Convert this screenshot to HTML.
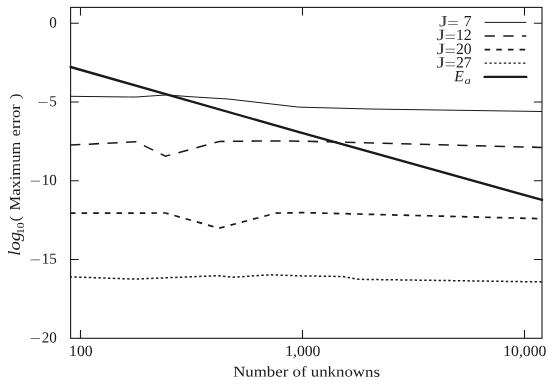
<!DOCTYPE html>
<html><head><meta charset="utf-8"><title>plot</title>
<style>
html,body{margin:0;padding:0;background:#fff;}
svg{display:block}
text{font-family:"Liberation Serif",serif;font-size:15.7px;fill:#1a1a1a;white-space:pre}
.i{font-style:italic}
</style></head><body>
<svg width="550" height="384" viewBox="0 0 550 384">
<rect width="550" height="384" fill="#fff"/>
<g fill="none" stroke="#1a1a1a" stroke-width="1.1">
<rect x="70.6" y="7.4" width="471.4" height="330.9"/>

<path d="M70.6,23.2h8.2 M542.05,23.2h-8.2"/>
<path d="M70.6,102.0h8.2 M542.05,102.0h-8.2"/>
<path d="M70.6,180.8h8.2 M542.05,180.8h-8.2"/>
<path d="M70.6,259.5h8.2 M542.05,259.5h-8.2"/>
<path d="M80.5,338.3v-8.2 M80.5,7.4v8.2"/>
<path d="M302.5,338.3v-8.2 M302.5,7.4v8.2"/>
<path d="M524.5,338.3v-8.2 M524.5,7.4v8.2"/>
</g>
<g fill="none" stroke="#1a1a1a">
<path d="M70.6,96.3 L128.7,97.0 L136.0,97.0 L166.9,94.9 L190.0,96.7 L229.0,99.1 L298.5,107.1 L370.0,109.0 L542.0,111.5" stroke-width="1"/>
<path d="M70.6,145.1 L136.0,141.7 L165.4,156.2 L219.5,141.4 L276.0,140.9 L302.0,141.2 L542.0,147.4" stroke-width="1.55" stroke-dasharray="10.3 8.4" stroke-dashoffset="0.5"/>
<path d="M70.6,213.2 L165.5,213.0 L219.0,228.2 L276.0,213.1 L302.0,212.6 L542.0,218.7" stroke-width="1.7" stroke-dasharray="5.6 6.05" stroke-dashoffset="0.7"/>
<path d="M70.6,276.9 L134.0,279.1 L165.5,277.8 L218.0,275.7 L232.0,277.3 L270.0,274.8 L302.0,275.9 L342.6,276.5 L358.0,279.3 L542.0,281.9" stroke-width="1.5" stroke-dasharray="2.4 2.4" stroke-dashoffset="1.0"/>
<path d="M70.6,67.0 L300.0,132.4 L542.0,199.9" stroke-width="2.35" stroke-linecap="round" stroke-linejoin="round"/>
<path d="M484.6,22.4H526.3" stroke-width="1"/>
<path d="M484.6,36.0H526.3" stroke-width="1.55" stroke-dasharray="10.3 8.4"/>
<path d="M484.6,49.65H526.3" stroke-width="1.7" stroke-dasharray="5.6 6.05"/>
<path d="M484.6,63.1H526.3" stroke-width="1.4" stroke-dasharray="2.4 2.4"/>
<path d="M484.6,76.9H526.3" stroke-width="2.35" stroke-linecap="round" stroke-linejoin="round"/>
</g>
<text transform="translate(56.9,27.5) rotate(0.03) scale(0.98,1)" text-anchor="end" style="font-size:15.4px">0</text>
<text transform="translate(56.9,106.3) rotate(0.03) scale(0.98,1)" text-anchor="end" style="font-size:15.4px">5</text>
<text transform="translate(48.5,107.5) rotate(0.03) scale(1.25,1)" text-anchor="end" style="fill:#444">−</text>
<text transform="translate(56.9,185.1) rotate(0.03) scale(0.98,1)" text-anchor="end" style="font-size:15.4px">10</text>
<text transform="translate(40.9,186.2) rotate(0.03) scale(1.25,1)" text-anchor="end" style="fill:#444">−</text>
<text transform="translate(56.9,263.8) rotate(0.03) scale(0.98,1)" text-anchor="end" style="font-size:15.4px">15</text>
<text transform="translate(40.9,265.0) rotate(0.03) scale(1.25,1)" text-anchor="end" style="fill:#444">−</text>
<text transform="translate(56.9,342.6) rotate(0.03) scale(0.98,1)" text-anchor="end" style="font-size:15.4px">20</text>
<text transform="translate(40.9,343.8) rotate(0.03) scale(1.25,1)" text-anchor="end" style="fill:#444">−</text>
<text transform="translate(80.8,356.1) rotate(0.03) scale(1.02,1)" text-anchor="middle" style="font-size:15.4px">100</text>
<text transform="translate(302.8,356.1) rotate(0.03) scale(1.02,1)" text-anchor="middle" style="font-size:15.4px">1,000</text>
<text transform="translate(524.8,356.1) rotate(0.03) scale(1.02,1)" text-anchor="middle" style="font-size:15.4px">10,000</text>
<text transform="translate(306.6,376.6) rotate(0.03) scale(1.138,1)" text-anchor="middle" style="font-size:14.8px">Number of unknowns</text>
<text transform="translate(20.3,255.8) rotate(-90) scale(1.19,1)" class="i">log</text>
<text transform="translate(23.5,234.0) rotate(-90) scale(1.14,1)" style="font-size:10.3px">10</text>
<text transform="translate(20.3,221.4) rotate(-90) scale(1.116,1)" style="word-spacing:1.1px;font-size:14.8px">( Maximum error )</text>
<text transform="translate(471.6,26.3) rotate(0.03) scale(1.0,1)" text-anchor="end" > 7</text>
<text transform="translate(458.7,28.3) rotate(0.03) scale(1.3,1)" text-anchor="end" style="fill:#555">=</text>
<text transform="translate(447.6,26.3) rotate(0.03) scale(1.42,1)" text-anchor="end" style="fill:#444">J</text>
<text transform="translate(471.6,40.1) rotate(0.03) scale(1.0,1)" text-anchor="end" >12</text>
<text transform="translate(456.1,42.1) rotate(0.03) scale(1.3,1)" text-anchor="end" style="fill:#555">=</text>
<text transform="translate(445.2,40.1) rotate(0.03) scale(1.42,1)" text-anchor="end" style="fill:#444">J</text>
<text transform="translate(471.6,53.9) rotate(0.03) scale(1.0,1)" text-anchor="end" >20</text>
<text transform="translate(456.1,55.9) rotate(0.03) scale(1.3,1)" text-anchor="end" style="fill:#555">=</text>
<text transform="translate(445.2,53.9) rotate(0.03) scale(1.42,1)" text-anchor="end" style="fill:#444">J</text>
<text transform="translate(471.6,67.5) rotate(0.03) scale(1.0,1)" text-anchor="end" >27</text>
<text transform="translate(456.1,69.5) rotate(0.03) scale(1.3,1)" text-anchor="end" style="fill:#555">=</text>
<text transform="translate(445.2,67.5) rotate(0.03) scale(1.42,1)" text-anchor="end" style="fill:#444">J</text>
<text transform="translate(463.8,81.2) rotate(0.03) scale(1.0,1)" text-anchor="end" class="i">E</text>
<text transform="translate(470.9,83.8) rotate(0.03) scale(1.3,1)" text-anchor="end" class="i" style="font-size:9.8px">a</text>
</svg></body></html>
